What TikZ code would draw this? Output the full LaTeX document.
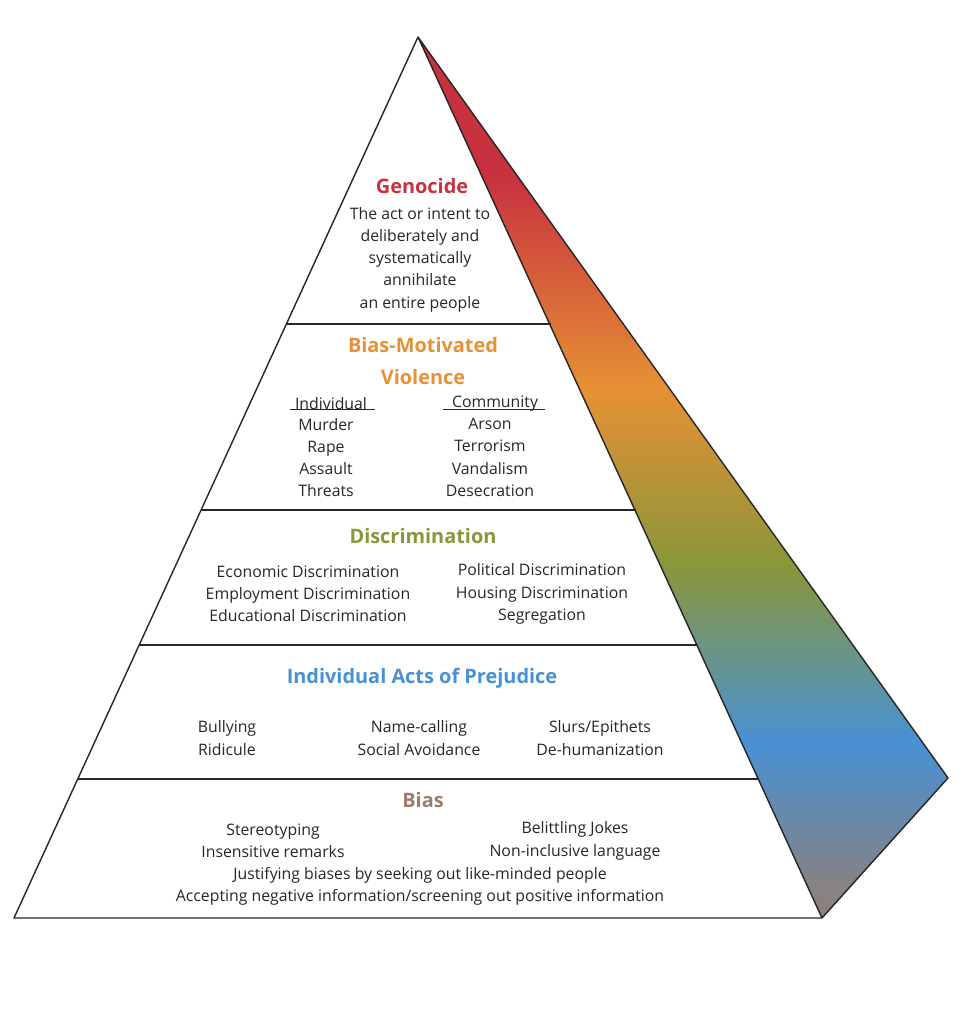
\documentclass[tikz,border=0pt]{standalone}
\usepackage{fontspec}
\setmainfont{Open Sans}
\definecolor{gencol}{RGB}{200,50,62}
\definecolor{viocol}{RGB}{230,145,52}
\definecolor{discol}{RGB}{138,150,58}
\definecolor{actcol}{RGB}{72,145,212}
\definecolor{biascol}{RGB}{155,125,106}
\pgfdeclareverticalshading{sideface}{100bp}{color(0bp)=(biascol); color(24bp)=(biascol); color(35bp)=(actcol); color(45bp)=(discol); color(55bp)=(viocol); color(67bp)=(gencol); color(100bp)=(gencol)}
\tikzset{
  title/.style={font=\fontsize{17}{20}\selectfont\bfseries, align=center},
  body/.style={font=\fontsize{13.5}{19}\selectfont, align=center, text=black!85}
}
\begin{document}
\begin{tikzpicture}[x=0.3mm, y=-0.3mm]

\useasboundingbox (0,0) rectangle (966,1024);

%corners of the pyramid
\coordinate (apex) at (418,37);
\coordinate (BL) at (14,918);
\coordinate (BR) at (822,918);
\coordinate (side) at (948,778);

% coloured side face
\shade[shading=sideface] (apex) -- (side) -- (BR) -- cycle;
\draw[line width=1.2pt, line join=round, black!85] (apex) -- (side) -- (BR) -- (BL) -- cycle (apex) -- (BR);

% level separators
\draw[line width=1.2pt, black!85] (287,324) -- (551,324);
\draw[line width=1.2pt, black!85] (201,510) -- (636,510);
\draw[line width=1.2pt, black!85] (139,645) -- (697,645);
\draw[line width=1.2pt, black!85] (78,779) -- (758,779);

% genocide
\node[title, text=gencol] (genocide) at (422,186) {Genocide};
\node[body, anchor=north] (gentext) at (420,203) {The act or intent to\\deliberately and\\systematically\\annihilate\\an entire people};

% bias-motivated violence
\node[title, text=viocol, font=\fontsize{17}{28}\selectfont\bfseries] (violence) at (423,361) {Bias-Motivated\\Violence};
\node[body] (indiv) at (331,404) {Individual};
\node[body] (comm) at (495,404) {Community};
\draw[black!85] (290,409) -- (375,409);
\draw[black!85] (443,409) -- (545,409);
\node[body, anchor=north] (indivlist) at (326,414) {Murder\\Rape\\Assault\\Threats};
\node[body, anchor=north] (commlist) at (490,414) {Arson\\Terrorism\\Vandalism\\Desecration};

% discrimination
\node[title, text=discol] (discrim) at (423,536) {Discrimination};
\node[body] (disleft) at (308,594) {Economic Discrimination\\Employment Discrimination\\Educational Discrimination};
\node[body] (disright) at (542,594) {Political Discrimination\\Housing Discrimination\\Segregation};

% individual acts of prejudice
\node[title, text=actcol] (acts) at (422,678) {Individual Acts of Prejudice};
\node[body] (actsleft) at (227,738) {Bullying\\Ridicule};
\node[body] (actsmid) at (419,738) {Name-calling\\Social Avoidance};
\node[body] (actsright) at (600,738) {Slurs/Epithets\\De-humanization};

% bias
\node[title, text=biascol] (bias) at (423,800) {Bias};
\node[body] (biasleft) at (273,841) {Stereotyping\\Insensitive remarks};
\node[body] (biasright) at (575,841) {Belittling Jokes\\Non-inclusive language};
\node[body] (biaswide) at (420,886) {Justifying biases by seeking out like-minded people\\Accepting negative information/screening out positive information};

\end{tikzpicture}
\end{document}
